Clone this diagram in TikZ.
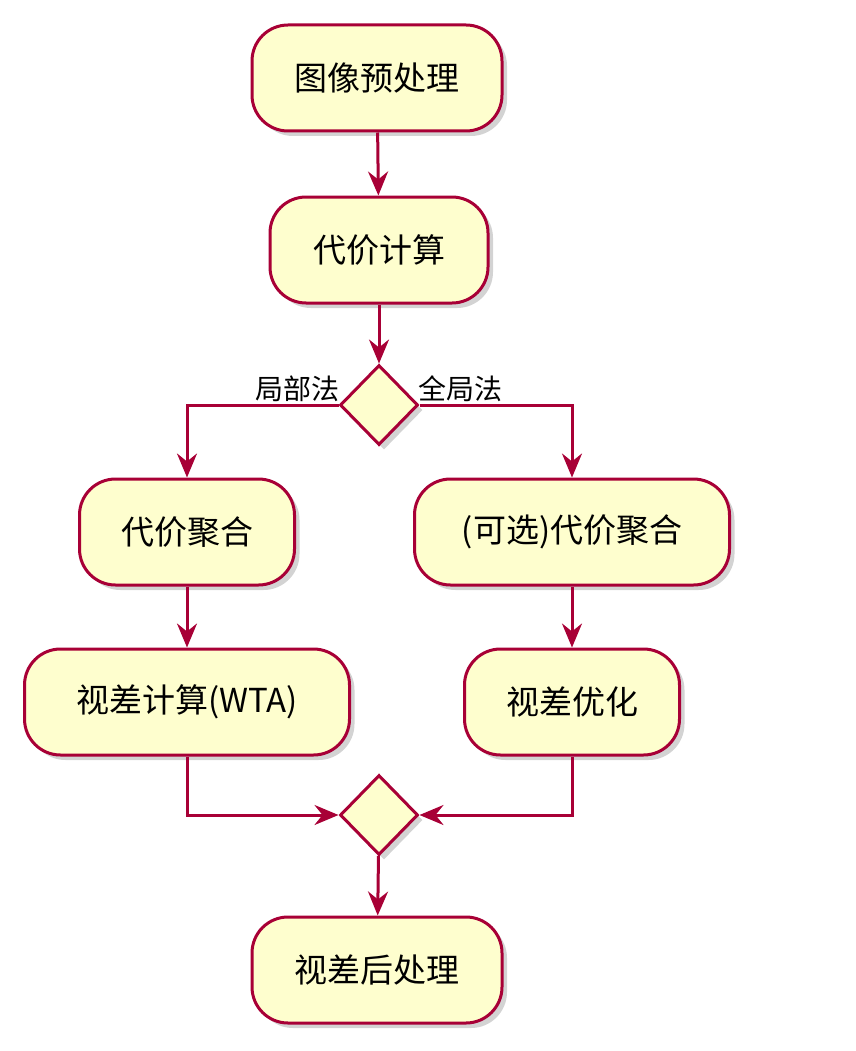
\documentclass[tikz,border=0pt]{standalone}
\usepackage{fontspec}
\setmainfont{Noto Sans CJK SC}
\usetikzlibrary{shapes.geometric,arrows.meta,shadows}
\definecolor{bfill}{HTML}{FEFECE}
\definecolor{bline}{HTML}{A80036}
\tikzset{
 x=1pt,y=-1pt,
 act/.style={draw=bline,line width=3pt,fill=bfill,rounded corners=36pt,minimum height=106pt,font=\fontsize{33}{38}\selectfont,drop shadow={shadow xshift=5pt,shadow yshift=-5pt,opacity=0.35,fill=gray}},
 dec/.style={draw=bline,line width=3pt,fill=bfill,diamond,minimum width=78pt,minimum height=80pt,inner sep=0pt,drop shadow={shadow xshift=5pt,shadow yshift=-5pt,opacity=0.35,fill=gray}},
 arr/.style={draw=bline,line width=3pt,-{Stealth[length=24pt,width=20pt,inset=8pt]}},
 lbl/.style={font=\fontsize{28}{32}\selectfont}
}
\begin{document}
\begin{tikzpicture}
\useasboundingbox (0,0) rectangle (855,1051);
\node[act,minimum width=250pt] (a) at (377,78) {图像预处理};
\node[act,minimum width=218pt] (b) at (379,250) {代价计算};
\node[dec] (d1) at (379,405) {};
\node[act,minimum width=215pt] (c) at (187,532) {代价聚合};
\node[act,minimum width=315pt] (e) at (572,532) {(可选)代价聚合};
\node[act,minimum width=325pt] (f) at (187,702) {视差计算(WTA)};
\node[act,minimum width=215pt] (g) at (572,702) {视差优化};
\node[dec] (d2) at (379,815) {};
\node[act,minimum width=250pt] (h) at (377,970) {视差后处理};
\node[lbl,anchor=south east,inner sep=0pt] (l1) at (340,402) {局部法};
\node[lbl,anchor=south west,inner sep=0pt] (l2) at (418,402) {全局法};
\draw[arr] (a) -- (b);
\draw[arr] (b) -- (d1);
\draw[arr] (d1.west) -| (c.north);
\draw[arr] (d1.east) -| (e.north);
\draw[arr] (c) -- (f);
\draw[arr] (e) -- (g);
\draw[arr] (f.south) |- (d2.west);
\draw[arr] (g.south) |- (d2.east);
\draw[arr] (d2) -- (h);
\end{tikzpicture}
\end{document}
